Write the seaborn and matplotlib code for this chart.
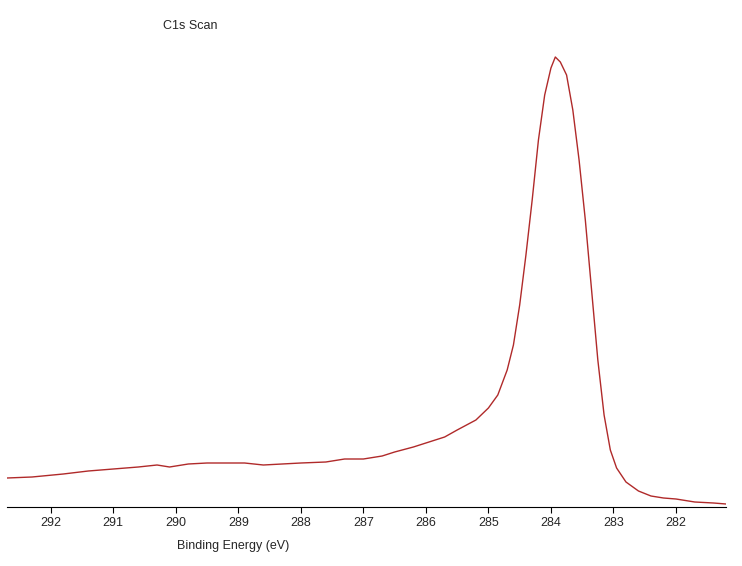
import matplotlib
matplotlib.use("Agg")
import matplotlib.pyplot as plt
import seaborn as sns
import pandas as pd

sns.set_style("white")
plt.rcParams['font.family'] = ['Liberation Sans', 'DejaVu Sans']

energy = [292.7, 292.3, 291.8, 291.4, 291.0, 290.6, 290.3, 290.1, 289.8, 289.5, 289.2, 288.9, 288.6, 288.3, 288.0, 287.6, 287.3, 287.0, 286.7, 286.5, 286.2, 286.0, 285.7, 285.5, 285.2, 285.0, 284.85, 284.7, 284.6, 284.5, 284.4, 284.3, 284.2, 284.1, 284.0, 283.93, 283.85, 283.75, 283.65, 283.55, 283.45, 283.35, 283.25, 283.15, 283.05, 282.95, 282.8, 282.6, 282.4, 282.2, 282.0, 281.7, 281.4, 281.2]
pix_y = [478, 477, 474, 471, 469, 467, 465, 467, 464, 463, 463, 463, 465, 464, 463, 462, 459, 459, 456, 452, 447, 443, 437, 430, 420, 408, 395, 370, 345, 305, 255, 200, 140, 95, 68, 57, 62, 75, 110, 160, 220, 290, 360, 415, 450, 468, 482, 491, 496, 498, 499, 502, 503, 504]
intensity = [507 - v for v in pix_y]

df = pd.DataFrame({"energy": energy, "intensity": intensity})

fig = plt.figure(figsize=(7.42, 5.66), dpi=100)
ax = fig.add_axes([7/742, 1 - 507/566, (726 - 7)/742, (507 - 27)/566])
sns.lineplot(data=df, x="energy", y="intensity", ax=ax, color="#b02a2a", linewidth=1)
ax.set_xlim(292.7, 281.2)
ax.set_ylim(0, 480)
ax.set_xticks(list(range(282, 293)))
ax.set_xticklabels([str(t) for t in range(282, 293)], fontsize=9)
ax.set_yticks([])
ax.set_ylabel("")
ax.set_xlabel("")
for s in ["top", "right", "left"]:
    ax.spines[s].set_visible(False)
ax.spines["bottom"].set_color("black")
ax.tick_params(axis="x", bottom=True, length=4, direction="out", color="black")
fig.text(233/742, 1 - 546/566, "Binding Energy (eV)", fontsize=9, ha="center", va="center")
fig.text(190/742, 1 - 26/566, "C1s Scan", fontsize=9, ha="center", va="center")
fig.savefig("out.png", dpi=100)
